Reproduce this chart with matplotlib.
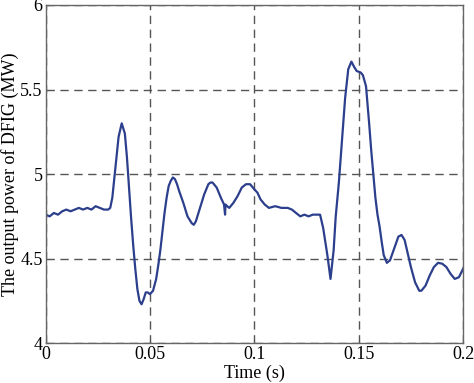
import matplotlib
matplotlib.use("Agg")
import matplotlib.pyplot as plt

# time (s) and DFIG output power (MW)
time_s = [
    0.000, 0.002, 0.004, 0.006, 0.008, 0.010, 0.012, 0.014, 0.016, 0.018,
    0.020, 0.022, 0.024, 0.026, 0.028, 0.030, 0.031, 0.032, 0.033, 0.034,
    0.035, 0.0365, 0.038, 0.039, 0.040, 0.041, 0.042, 0.043, 0.044, 0.045,
    0.046, 0.047, 0.048, 0.049, 0.050, 0.0515, 0.053, 0.054, 0.055, 0.056,
    0.057, 0.058, 0.059, 0.060, 0.061, 0.062, 0.063, 0.064, 0.066, 0.068,
    0.070, 0.071, 0.072, 0.074, 0.076, 0.078, 0.079, 0.080, 0.082, 0.084,
    0.0855, 0.086, 0.0862, 0.087, 0.088, 0.090, 0.092, 0.094, 0.096, 0.098,
    0.100, 0.1015, 0.103, 0.105, 0.107, 0.110, 0.113, 0.116, 0.118, 0.120,
    0.122, 0.124, 0.126, 0.128, 0.130, 0.1315, 0.133, 0.135, 0.1365, 0.138,
    0.139, 0.1405, 0.142, 0.1435, 0.145, 0.1465, 0.148, 0.149, 0.151, 0.152,
    0.1535, 0.155, 0.156, 0.157, 0.158, 0.159, 0.160, 0.161, 0.162, 0.1635,
    0.165, 0.167, 0.169, 0.1705, 0.172, 0.1735, 0.175, 0.177, 0.179, 0.180,
    0.182, 0.184, 0.186, 0.188, 0.190, 0.192, 0.194, 0.196, 0.198, 0.200,
]
power_mw = [
    4.76, 4.75, 4.77, 4.76, 4.78, 4.79, 4.78, 4.79, 4.80, 4.79,
    4.80, 4.79, 4.81, 4.80, 4.79, 4.79, 4.80, 4.86, 4.98, 5.10,
    5.22, 5.30, 5.24, 5.10, 4.92, 4.74, 4.58, 4.44, 4.32, 4.25,
    4.23, 4.26, 4.30, 4.30, 4.29, 4.31, 4.38, 4.46, 4.55, 4.66,
    4.77, 4.86, 4.93, 4.96, 4.98, 4.97, 4.94, 4.90, 4.83, 4.75,
    4.71, 4.70, 4.72, 4.80, 4.88, 4.94, 4.95, 4.95, 4.92, 4.86,
    4.82, 4.76, 4.82, 4.81, 4.80, 4.83, 4.87, 4.92, 4.94, 4.94,
    4.91, 4.89, 4.85, 4.82, 4.80, 4.81, 4.80, 4.80, 4.79, 4.77,
    4.75, 4.76, 4.75, 4.76, 4.76, 4.76, 4.68, 4.52, 4.38, 4.55,
    4.75, 4.95, 5.20, 5.45, 5.62, 5.665, 5.63, 5.61, 5.60, 5.585,
    5.52, 5.30, 5.14, 5.00, 4.86, 4.76, 4.69, 4.60, 4.52, 4.475,
    4.49, 4.56, 4.63, 4.64, 4.61, 4.53, 4.45, 4.36, 4.31, 4.31,
    4.34, 4.40, 4.45, 4.475, 4.47, 4.45, 4.41, 4.38, 4.39, 4.44,
]

x_ticks = [0, 0.05, 0.1, 0.15, 0.2]
x_tick_labels = ["0", "0.05", "0.1", "0.15", "0.2"]
y_ticks = [4, 4.5, 5, 5.5, 6]
y_tick_labels = ["4", "4.5", "5", "5.5", "6"]

plt.rcParams["font.family"] = ["Liberation Serif", "DejaVu Serif"]

fig = plt.figure(figsize=(4.74, 3.83), dpi=100)
ax = fig.add_axes([0.096, 0.104, 0.881, 0.883])

ax.plot(time_s, power_mw, color="#2c3f8c", linewidth=1.6)

ax.set_xlim(0, 0.2)
ax.set_ylim(4, 6)
ax.set_xticks(x_ticks)
ax.set_xticklabels(x_tick_labels)
ax.set_yticks(y_ticks)
ax.set_yticklabels(y_tick_labels)
ax.tick_params(direction="in", length=3, labelsize=13, colors="#555555",
               labelcolor="black", pad=2)

ax.grid(True, color="#555555", linestyle=(0, (6, 4)), linewidth=1.0)
for spine in ax.spines.values():
    spine.set_color("#666666")
    spine.set_linewidth(1.0)

ax.set_xlabel("Time (s)", fontsize=13, labelpad=1)
ax.set_ylabel("The output power of DFIG (MW)", fontsize=13, labelpad=1)

fig.savefig("out.png", dpi=100)
